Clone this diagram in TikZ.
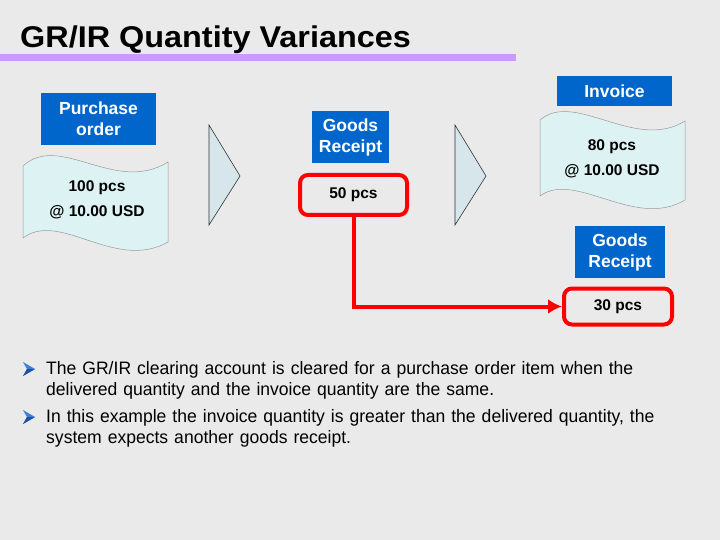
\documentclass[tikz,border=0pt]{standalone}
\usepackage{fontspec}
\usetikzlibrary{arrows.meta}
\setmainfont{Liberation Sans}
\newfontfamily\narrowfont[FakeStretch=0.975]{Liberation Sans}
\newfontfamily\titlefont[FakeStretch=1.08]{Liberation Sans Bold}
\definecolor{bg}{HTML}{EAEAEA}
\definecolor{titlebar}{HTML}{CC99FF}
\definecolor{boxblue}{HTML}{0066CC}
\definecolor{docfill}{HTML}{DDF2F3}
\definecolor{trifill}{HTML}{D6E6EA}
\definecolor{bulletblue}{HTML}{3D7FD6}
\definecolor{bulletdark}{HTML}{1F4FA8}
\tikzset{
  hdr/.style={fill=boxblue, text=white, font=\bfseries\fontsize{17.5}{21}\selectfont, align=center, inner sep=0pt},
  qty/.style={draw=red, line width=4pt, rounded corners=8pt, fill=bg, font=\bfseries\fontsize{15.5}{17}\selectfont, inner sep=0pt},
  doctext/.style={font=\bfseries\fontsize{15.5}{25}\selectfont, align=center},
  docshape/.style={fill=docfill, draw=gray!80, line width=0.5pt},
  tri/.style={fill=trifill, draw=black!80, line width=0.6pt},
  bullet/.style={font=\narrowfont\fontsize{18}{21}\selectfont, align=left, anchor=north west, inner sep=0pt, text width=665pt},
}
\begin{document}
\begin{tikzpicture}[x=1pt,y=-1pt]
\fill[bg] (0,0) rectangle (720,540);
\useasboundingbox (0,0) rectangle (720,540);
% title
\node[anchor=base west, inner sep=0pt, font=\titlefont\fontsize{30}{32}\selectfont] (title) at (20,48) {GR/IR Quantity Variances};
\fill[titlebar] (0,54) rectangle (516,61);
% purchase order
\node[hdr, minimum width=115pt, minimum height=52pt] (po) at (98.5,119) {Purchase\\order};
\path[docshape] (23,166) .. controls (60,132) and (115,195) .. (168,162) -- (168,242) .. controls (115,272) and (60,210) .. (23,238) -- cycle;
\node[doctext] (potext) at (97,200) {100 pcs\\@ 10.00 USD};
% triangle 1
\path[tri] (209,125) -- (240,176) -- (209,225) -- cycle;
% goods receipt 1
\node[hdr, minimum width=77pt, minimum height=52pt] (gr1h) at (350.5,137) {Goods\\Receipt};
\node[qty, minimum width=107pt, minimum height=40pt] (gr1) at (353.5,195) {50 pcs};
% triangle 2
\path[tri] (455,125) -- (486,176) -- (455,225) -- cycle;
% invoice
\node[hdr, minimum width=115pt, minimum height=30pt] (inv) at (614.5,91) {Invoice};
\path[docshape] (540,120) .. controls (575,90) and (635,152) .. (685,121) -- (685,200) .. controls (635,230) and (575,170) .. (540,196) -- cycle;
\node[doctext] (invtext) at (612,159) {80 pcs\\@ 10.00 USD};
% goods receipt 2
\node[hdr, minimum width=90pt, minimum height=52pt] (gr2h) at (620,252) {Goods\\Receipt};
\node[qty, minimum width=108pt, minimum height=36pt] (gr2) at (618,306.5) {30 pcs};
% connector
\draw[red, line width=4pt, -{Latex[length=14pt,width=15pt]}] (gr1.south) |- (gr2.west);
% bullets
\foreach \y in {369,417}{
  \fill[bulletblue] (23,\y-7) -- (35,\y) -- (23,\y+7) -- (27,\y) -- cycle;
  \fill[bulletdark] (27,\y) -- (35,\y) -- (23,\y+7) -- cycle;
}
\node[bullet] (t1) at (46,361) {The GR/IR clearing account is cleared for a purchase order item when the\\delivered quantity and the invoice quantity are the same.};
\node[bullet] (t2) at (46,409) {In this example the invoice quantity is greater than the delivered quantity, the\\system expects another goods receipt.};
\end{tikzpicture}
\end{document}
